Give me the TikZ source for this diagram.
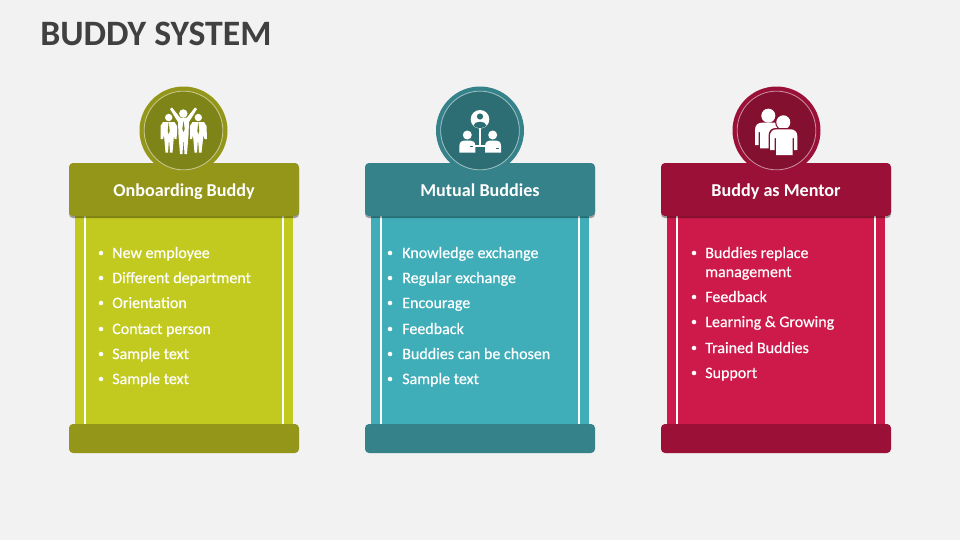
\documentclass[tikz,border=0pt]{standalone}
\usepackage{fontspec}
\setmainfont{Carlito}
\newfontfamily\itemfont[FakeBold=0.35]{Carlito}
\usetikzlibrary{shadows}
\definecolor{pagebg}{HTML}{F2F2F2}
\definecolor{olivehead}{HTML}{949619}
\definecolor{olivebody}{HTML}{C3CA1F}
\definecolor{olivedisc}{HTML}{7F8418}
\definecolor{tealhead}{HTML}{35828A}
\definecolor{tealbody}{HTML}{40AEB8}
\definecolor{tealdisc}{HTML}{2C6E74}
\definecolor{redhead}{HTML}{9B1037}
\definecolor{redbody}{HTML}{CE1A4A}
\definecolor{reddisc}{HTML}{84102F}
\tikzset{
  font={\fontsize{12pt}{14pt}\selectfont},
  headbox/.style={shape=rectangle, rounded corners=3pt, minimum width=172.5pt, minimum height=39.75pt, inner sep=0pt, text=white, text height=11.2pt, text depth=0pt, font={\fontsize{13.6pt}{15pt}\selectfont\bfseries}, drop shadow={shadow xshift=0pt, shadow yshift=-1.6pt, opacity=0.35, fill=black}},
  footbox/.style={shape=rectangle, rounded corners=3pt, minimum width=172.5pt, minimum height=21.75pt, inner sep=0pt},
  bodybox/.style={shape=rectangle, minimum width=163.5pt, minimum height=156pt, inner sep=0pt},
  disc/.style={shape=circle, minimum size=66pt, inner sep=0pt},
  ring/.style={shape=circle, draw=white, draw opacity=0.55, line width=0.6pt, minimum size=59pt, inner sep=0pt},
  rail/.style={white, line width=1.2pt},
  item/.style={anchor=base west, yshift=-3.8pt, inner sep=0pt, text=white, font={\itemfont\fontsize{12pt}{14pt}\selectfont}},
  dot/.style={shape=circle, fill=white, minimum size=3.4pt, inner sep=0pt},
  glyph/.style={fill=white, draw=none}
}
\begin{document}
\begin{tikzpicture}[x=0.75pt, y=-0.75pt]
  \useasboundingbox[fill=pagebg] (0,0) rectangle (960,540);
  \node (title) [anchor=base west, inner sep=0pt, text=black!75, font={\fontsize{26.8pt}{28pt}\selectfont\bfseries}] at (40,45.7) {BUDDY SYSTEM};

  % first column
  \node (bodya) [bodybox, fill=olivebody] at (184,320) {};
  \coordinate (railat) at (85,216); \coordinate (railab) at (85,424);
  \coordinate (railbt) at (283,216); \coordinate (railbb) at (283,424);
  \draw[rail] (railat) -- (railab);
  \draw[rail] (railbt) -- (railbb);
  \node (heada) [headbox, fill=olivehead] at (184,189.5) {Onboarding Buddy};
  \node (foota) [footbox, fill=olivehead] at (184,438.5) {};
  \node (disca) [disc, fill=olivehead] at (183.5,130.5) {};
  \node (discb) [disc, minimum size=59pt, fill=olivedisc] at (183.5,130.5) {};
  \node (ringa) [ring] at (183.5,130.5) {};

  % people with raised arms
  \fill[glyph] (183.3,113.5) circle (4.2);
  \fill[glyph] (168.7,117.5) circle (3.7);
  \fill[glyph] (198.3,117.5) circle (3.7);
  \fill[glyph] (170,109) -- (172,107.5) -- (180,117.5) -- (187,117.5) -- (195,107.5) -- (197,109) -- (189,122) -- (188.5,135) -- (187,154) -- (184.5,154) -- (183.5,138) -- (182.5,154) -- (180,154) -- (178.5,135) -- (178,122) -- cycle;
  \fill[glyph] (163,122) -- (174.5,122) -- (177,126) -- (177,133) -- (176.5,139) -- (174.5,139) -- (174,135) -- (172.5,152.5) -- (170,152.5) -- (169,139) -- (168,152.5) -- (165.5,152.5) -- (164,135) -- (163,139) -- (160.5,139) -- (160.5,126) -- cycle;
  \fill[glyph] (192.5,122) -- (204,122) -- (206.5,126) -- (207,139) -- (204.5,139) -- (203.5,135) -- (201.5,152.5) -- (199,152.5) -- (198,139) -- (197,152.5) -- (194.5,152.5) -- (193,135) -- (192,139) -- (190,139) -- (190,126) -- cycle;
  \fill[olivedisc] (183.5,121) -- (182.3,129) -- (183.5,132) -- (184.7,129) -- cycle;
  \fill[olivedisc] (168.7,122) -- (167.7,131) -- (168.7,134) -- (169.7,131) -- cycle;
  \fill[olivedisc] (198.3,122) -- (197.3,131) -- (198.3,134) -- (199.3,131) -- cycle;

  \node (dota) [dot] at (101,253) {};
  \node (itema) [item] at (112,253) {New employee};
  \node (dotb) [dot] at (101,278) {};
  \node (itemb) [item] at (112,278) {Different department};
  \node (dotc) [dot] at (101,303) {};
  \node (itemc) [item] at (112,303) {Orientation};
  \node (dotd) [dot] at (101,329) {};
  \node (itemd) [item] at (112,329) {Contact person};
  \node (dote) [dot] at (101,354) {};
  \node (iteme) [item] at (112,354) {Sample text};
  \node (dotf) [dot] at (101,379) {};
  \node (itemf) [item] at (112,379) {Sample text};

  % second column
  \node (bodyb) [bodybox, fill=tealbody] at (480,320) {};
  \coordinate (railct) at (381,216); \coordinate (railcb) at (381,424);
  \coordinate (raildt) at (579,216); \coordinate (raildb) at (579,424);
  \draw[rail] (railct) -- (railcb);
  \draw[rail] (raildt) -- (raildb);
  \node (headb) [headbox, fill=tealhead] at (480,189.5) {Mutual Buddies};
  \node (footb) [footbox, fill=tealhead] at (480,438.5) {};
  \node (discc) [disc, fill=tealhead] at (480,130.5) {};
  \node (discd) [disc, minimum size=59pt, fill=tealdisc] at (480,130.5) {};
  \node (ringb) [ring] at (480,130.5) {};

  % linked people
  \coordinate (linka) at (480,125);
  \coordinate (linkb) at (480,146);
  \coordinate (linkc) at (473,146);
  \coordinate (linkd) at (487,146);
  \draw[white, line width=0.8pt] (linka) -- (linkb);
  \draw[white, line width=0.8pt] (linkc) -- (linkd);
  \fill[glyph] (480,119.3) circle (9.3);
  \fill[tealdisc] (480,116.5) circle (3.1);
  \fill[tealdisc] (473.5,125.5) .. controls (474,120.5) and (486,120.5) .. (486.5,125.5) .. controls (484,129) and (476,129) .. (473.5,125.5) -- cycle;
  \fill[glyph] (467.3,135) circle (4.5);
  \fill[glyph] (492.7,135) circle (4.5);
  \fill[glyph] (459.3,152.7) -- (459.3,146) .. controls (459.5,142) and (462,140.5) .. (464,140.5) -- (470.5,140.5) .. controls (473,140.5) and (475.3,142) .. (475.3,146) -- (475.3,152.7) -- cycle;
  \fill[glyph] (485,152.7) -- (485,146) .. controls (485.2,142) and (487.7,140.5) .. (489.7,140.5) -- (496.2,140.5) .. controls (498.7,140.5) and (501,142) .. (501,146) -- (501,152.7) -- cycle;
  \fill[tealdisc] (470,146) rectangle (473,147.2);
  \fill[tealdisc] (495.5,148) rectangle (498.5,149.2);

  \node (dotg) [dot] at (390,253) {};
  \node (itemg) [item] at (402,253) {Knowledge exchange};
  \node (doth) [dot] at (390,278) {};
  \node (itemh) [item] at (402,278) {Regular exchange};
  \node (doti) [dot] at (390,303) {};
  \node (itemi) [item] at (402,303) {Encourage};
  \node (dotj) [dot] at (390,329) {};
  \node (itemj) [item] at (402,329) {Feedback};
  \node (dotk) [dot] at (390,354) {};
  \node (itemk) [item] at (402,354) {Buddies can be chosen};
  \node (dotl) [dot] at (390,379) {};
  \node (iteml) [item] at (402,379) {Sample text};

  % third column
  \node (bodyc) [bodybox, fill=redbody] at (776,320) {};
  \coordinate (railet) at (677,216); \coordinate (raileb) at (677,424);
  \coordinate (railft) at (875,216); \coordinate (railfb) at (875,424);
  \draw[rail] (railet) -- (raileb);
  \draw[rail] (railft) -- (railfb);
  \node (headc) [headbox, fill=redhead] at (776,189.5) {Buddy as Mentor};
  \node (footc) [footbox, fill=redhead] at (776,438.5) {};
  \node (disce) [disc, fill=redhead] at (776.5,130.5) {};
  \node (discf) [disc, minimum size=59pt, fill=reddisc] at (776.5,130.5) {};
  \node (ringc) [ring] at (776.5,130.5) {};

  % two people
  \fill[glyph] (768.3,115.7) circle (7);
  \fill[glyph] (755,145) -- (755,130) .. controls (755,125) and (758,122.7) .. (762,122.7) -- (775,122.7) .. controls (778,122.7) and (781,125) .. (781,130) -- (781,148.3) -- (760,148.3) -- (760,132) -- (758.5,132) -- (758.5,145) -- cycle;
  \fill[reddisc] (783.3,122.3) circle (8.2);
  \fill[glyph] (783.3,122.3) circle (7);
  \fill[reddisc] (768.5,157) -- (768.5,136) .. controls (768.5,130) and (772,128) .. (776,128) -- (791,128) .. controls (795,128) and (798.5,130) .. (798.5,136) -- (798.5,157) -- cycle;
  \fill[glyph] (770,144.5) -- (770,136) .. controls (770,131.5) and (773,129.3) .. (776.5,129.3) -- (790.5,129.3) .. controls (794,129.3) and (797.3,131.5) .. (797.3,136) -- (797.3,150) -- (794,150) -- (794,138) -- (792.5,138) -- (792.5,155) -- (776,155) -- (776,138) -- (774.5,138) -- (774.5,150) -- (770,150) -- cycle;

  \node (dotm) [dot] at (694,253) {};
  \node (itemm) [item] at (705,253) {Buddies replace};
  \node (itemn) [item] at (705,272) {management};
  \node (doto) [dot] at (694,297) {};
  \node (itemo) [item] at (705,297) {Feedback};
  \node (dotp) [dot] at (694,322) {};
  \node (itemp) [item] at (705,322) {Learning \& Growing};
  \node (dotq) [dot] at (694,348) {};
  \node (itemq) [item] at (705,348) {Trained Buddies};
  \node (dotr) [dot] at (694,373) {};
  \node (itemr) [item] at (705,373) {Support};
\end{tikzpicture}
\end{document}
